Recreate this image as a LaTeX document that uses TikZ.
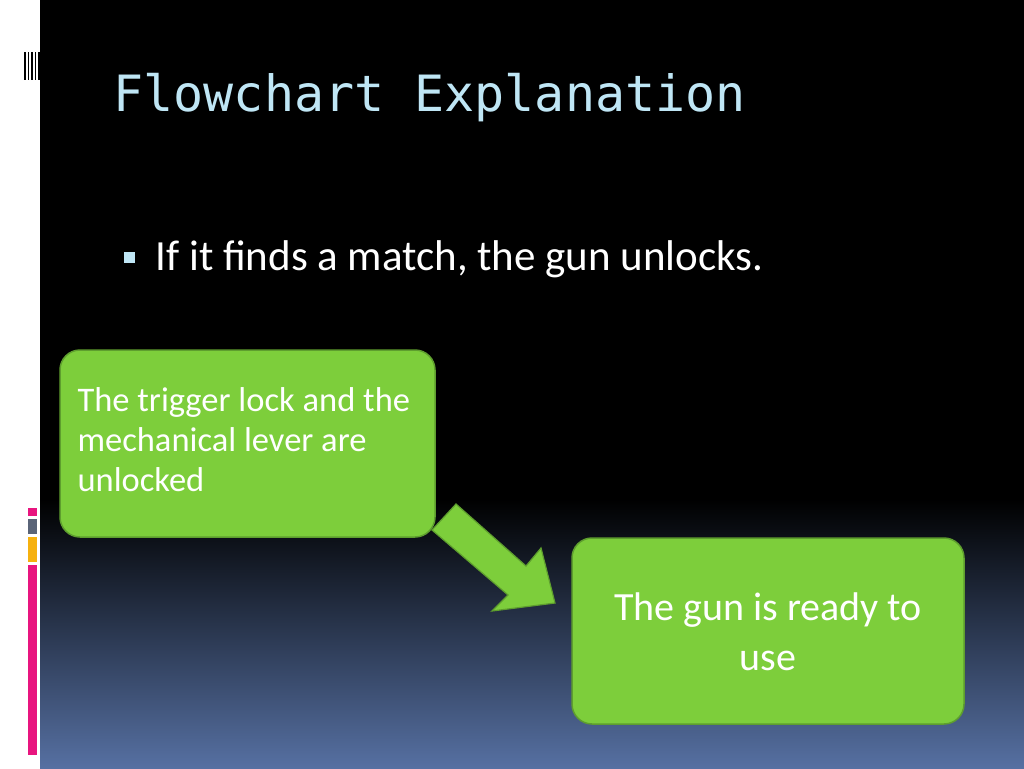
\documentclass[tikz,border=0pt]{standalone}
\usepackage{fontspec}
\setmainfont{Carlito}
\newfontfamily\titlefont{DejaVu Sans Mono}
\definecolor{gfill}{HTML}{7DCE3B}
\definecolor{gdraw}{HTML}{5E9E2E}
\definecolor{ttl}{HTML}{BFE6F5}
\definecolor{bluebot}{HTML}{5670A2}
\definecolor{pinkb}{HTML}{E8157F}
\definecolor{grayb}{HTML}{5A6478}
\definecolor{orangeb}{HTML}{F6B10F}
\tikzset{gbox/.style={draw=gdraw,line width=1.5pt,fill=gfill,rounded corners=20pt}}
\begin{document}
\begin{tikzpicture}[x=1pt,y=-1pt]
\useasboundingbox (0,0) rectangle (1024,768);
\fill[black] (40,0) rectangle (1024,500);
\shade[top color=black,bottom color=bluebot] (40,499) rectangle (1024,768);
\fill[white] (0,0) rectangle (40,768);
\foreach \x/\w in {24/1.5,27.5/1.5,31/1.5,34.5/1.5,38/2}{\fill[black] (\x,52) rectangle ++(\w,28);}
\fill[pinkb] (28,508) rectangle (37,516);
\fill[grayb] (28,519) rectangle (37,534);
\fill[orangeb] (28,537) rectangle (37,562);
\fill[pinkb] (28,565) rectangle (37,755);
\node[anchor=west,text=ttl,font=\titlefont\fontsize{50}{54}\selectfont] (title) at (110,98) {Flowchart Explanation};
\fill[ttl] (124,252) rectangle ++(11,11);
\node[anchor=west,text=white,font=\fontsize{43}{48}\selectfont] (bul) at (152,259) {If it finds a match, the gun unlocks.};
\draw[gbox] (60,350) rectangle (435,537);
\node[anchor=north west,text=white,align=left,font=\fontsize{34.5}{40}\selectfont] (t1) at (74,384) {The trigger lock and the\\mechanical lever are\\unlocked};
\draw[gbox] (572,538) rectangle (964,724);
\node[text=white,align=center,font=\fontsize{40}{50}\selectfont] (t2) at (768,632) {The gun is ready to\\use};
\draw[draw=gdraw,line width=1.2pt,fill=gfill] (456,504) -- (526,566) -- (541,548) -- (555,603) -- (492,611) -- (508,595) -- (432,530) -- cycle;
\end{tikzpicture}
\end{document}
